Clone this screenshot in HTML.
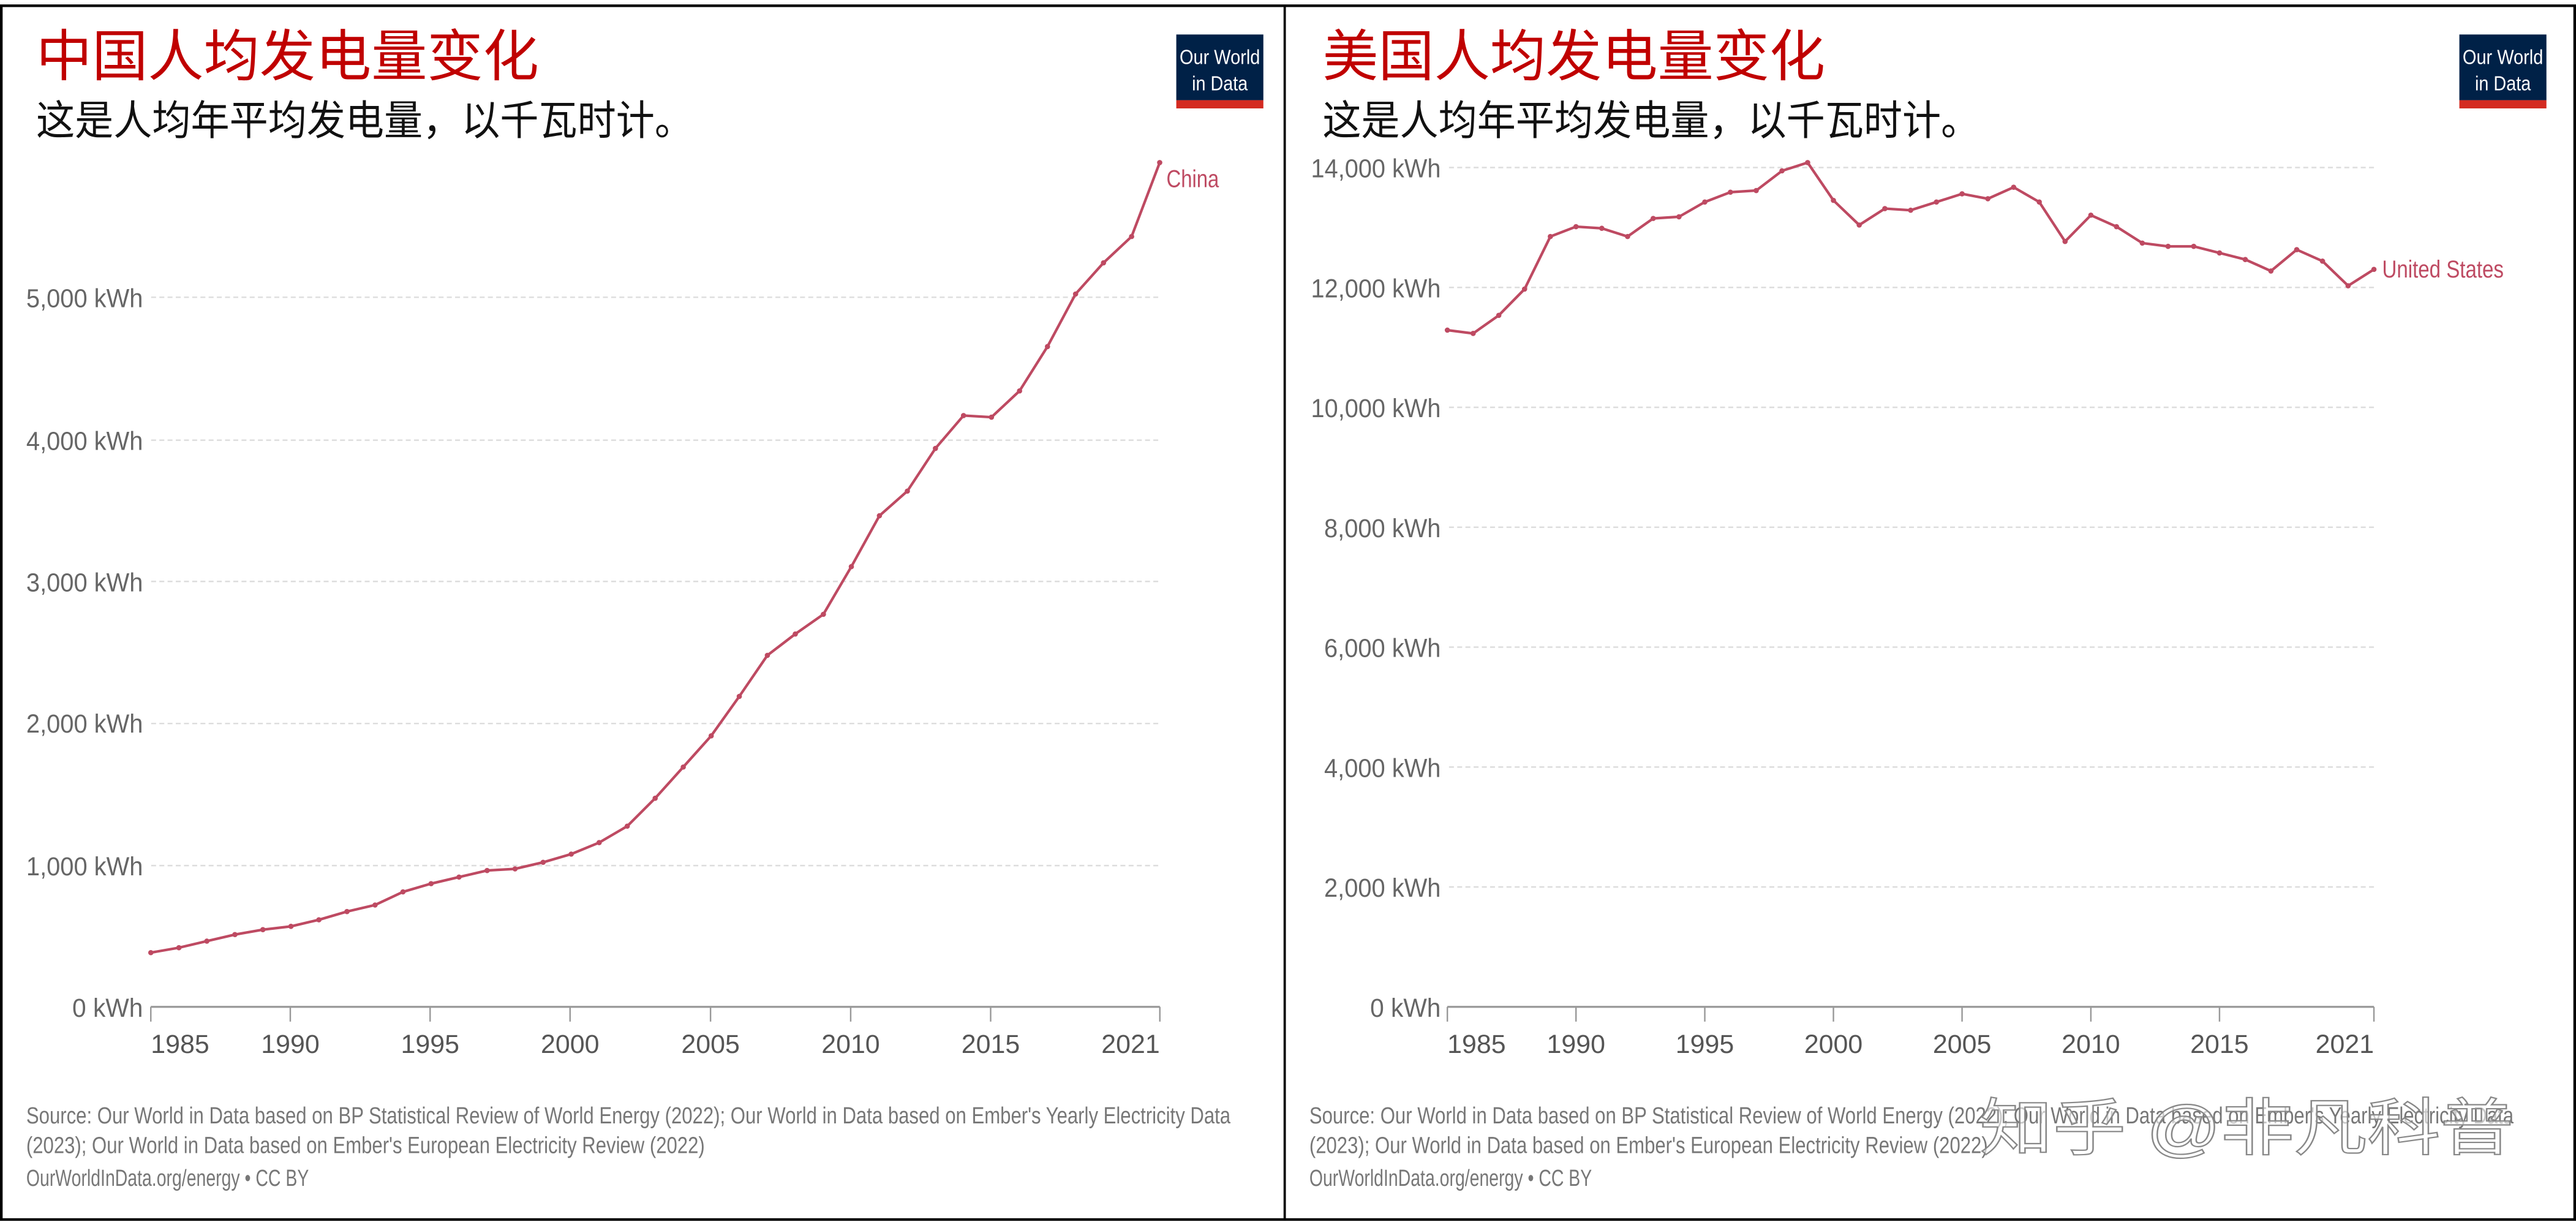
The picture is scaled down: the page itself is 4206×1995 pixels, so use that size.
<!DOCTYPE html>
<html><head><meta charset="utf-8"><style>
html,body{margin:0;padding:0;background:#fff}
svg{display:block}
text{font-family:"Liberation Sans","Noto Sans CJK SC",sans-serif}
</style></head><body>
<svg width="4206" height="1995" viewBox="0 0 1568 744" preserveAspectRatio="none" xmlns="http://www.w3.org/2000/svg">
<rect x="0" y="0" width="1568" height="744" fill="#fff"/>
<rect x="0.8" y="3.5" width="1566.4" height="739" fill="none" stroke="#000" stroke-width="1.6"/>
<line x1="782" y1="3.5" x2="782" y2="743" stroke="#000" stroke-width="1.4"/>

<!-- LEFT PANEL -->
<text x="22" y="46" font-size="34" fill="#c00000" textLength="306" lengthAdjust="spacingAndGlyphs">中国人均发电量变化</text>
<text x="22" y="82" font-size="25" fill="#111" textLength="400" lengthAdjust="spacingAndGlyphs">这是人均年平均发电量，以千瓦时计。</text>
<rect x="716" y="21" width="53" height="40" fill="#002147"/>
<rect x="716" y="61" width="53" height="5" fill="#d42b21"/>
<text x="742.5" y="39" font-size="12.5" fill="#fff" text-anchor="middle" textLength="49" lengthAdjust="spacingAndGlyphs">Our World</text>
<text x="742.5" y="55" font-size="12.5" fill="#fff" text-anchor="middle" textLength="34" lengthAdjust="spacingAndGlyphs">in Data</text>

<g stroke="#ddd" stroke-width="0.9" stroke-dasharray="3,2">
<line x1="92" y1="527" x2="706" y2="527"/><line x1="92" y1="440.5" x2="706" y2="440.5"/>
<line x1="92" y1="354" x2="706" y2="354"/><line x1="92" y1="268" x2="706" y2="268"/>
<line x1="92" y1="181" x2="706" y2="181"/>
</g>
<g font-size="16" fill="#666" text-anchor="end">
<text x="87" y="619" textLength="43" lengthAdjust="spacingAndGlyphs">0 kWh</text><text x="87" y="533" textLength="71" lengthAdjust="spacingAndGlyphs">1,000 kWh</text><text x="87" y="446" textLength="71" lengthAdjust="spacingAndGlyphs">2,000 kWh</text>
<text x="87" y="360" textLength="71" lengthAdjust="spacingAndGlyphs">3,000 kWh</text><text x="87" y="274" textLength="71" lengthAdjust="spacingAndGlyphs">4,000 kWh</text><text x="87" y="187" textLength="71" lengthAdjust="spacingAndGlyphs">5,000 kWh</text>
</g>
<line x1="91.8" y1="613" x2="706" y2="613" stroke="#999" stroke-width="1.2"/>
<g stroke="#999" stroke-width="0.9">
<line x1="91.8" y1="613" x2="91.8" y2="622"/><line x1="176.7" y1="613" x2="176.7" y2="622"/>
<line x1="261.8" y1="613" x2="261.8" y2="622"/><line x1="347" y1="613" x2="347" y2="622"/>
<line x1="432.5" y1="613" x2="432.5" y2="622"/><line x1="517.8" y1="613" x2="517.8" y2="622"/>
<line x1="603" y1="613" x2="603" y2="622"/><line x1="706" y1="613" x2="706" y2="622"/>
</g>
<g font-size="16" fill="#555" text-anchor="middle">
<text x="91.8" y="641" text-anchor="start">1985</text><text x="176.7" y="641">1990</text>
<text x="261.8" y="641">1995</text><text x="347" y="641">2000</text><text x="432.5" y="641">2005</text>
<text x="517.8" y="641">2010</text><text x="603" y="641">2015</text><text x="706" y="641" text-anchor="end">2021</text>
</g>
<polyline fill="none" stroke="#be4a62" stroke-width="1.6" points="91.8,580 108.9,577 125.9,573 143,569 160,566 177.1,564 194.1,560 211.2,555 228.3,551 245.3,543 262.4,538 279.4,534 296.5,530 313.5,529 330.6,525 347.7,520 364.7,513 381.8,503 398.8,486 415.9,467 432.9,448 450,424 467.1,399 484.1,386 501.2,374 518.2,345 535.3,314 552.3,299 569.4,273 586.5,253 603.5,254 620.6,238 637.6,211 654.7,179 671.7,160 688.8,144 705.9,99"/>
<g fill="#be4a62">
<circle cx="91.8" cy="580" r="1.6"/><circle cx="108.9" cy="577" r="1.6"/><circle cx="125.9" cy="573" r="1.6"/><circle cx="143" cy="569" r="1.6"/><circle cx="160" cy="566" r="1.6"/><circle cx="177.1" cy="564" r="1.6"/><circle cx="194.1" cy="560" r="1.6"/><circle cx="211.2" cy="555" r="1.6"/><circle cx="228.3" cy="551" r="1.6"/><circle cx="245.3" cy="543" r="1.6"/><circle cx="262.4" cy="538" r="1.6"/><circle cx="279.4" cy="534" r="1.6"/><circle cx="296.5" cy="530" r="1.6"/><circle cx="313.5" cy="529" r="1.6"/><circle cx="330.6" cy="525" r="1.6"/><circle cx="347.7" cy="520" r="1.6"/><circle cx="364.7" cy="513" r="1.6"/><circle cx="381.8" cy="503" r="1.6"/><circle cx="398.8" cy="486" r="1.6"/><circle cx="415.9" cy="467" r="1.6"/><circle cx="432.9" cy="448" r="1.6"/><circle cx="450" cy="424" r="1.6"/><circle cx="467.1" cy="399" r="1.6"/><circle cx="484.1" cy="386" r="1.6"/><circle cx="501.2" cy="374" r="1.6"/><circle cx="518.2" cy="345" r="1.6"/><circle cx="535.3" cy="314" r="1.6"/><circle cx="552.3" cy="299" r="1.6"/><circle cx="569.4" cy="273" r="1.6"/><circle cx="586.5" cy="253" r="1.6"/><circle cx="603.5" cy="254" r="1.6"/><circle cx="620.6" cy="238" r="1.6"/><circle cx="637.6" cy="211" r="1.6"/><circle cx="654.7" cy="179" r="1.6"/><circle cx="671.7" cy="160" r="1.6"/><circle cx="688.8" cy="144" r="1.6"/><circle cx="705.9" cy="99" r="1.6"/>
</g>
<text x="710" y="114" font-size="15" fill="#be4a62" textLength="32" lengthAdjust="spacingAndGlyphs">China</text>
<g font-size="14" fill="#777">
<text x="16" y="684" textLength="733" lengthAdjust="spacingAndGlyphs">Source: Our World in Data based on BP Statistical Review of World Energy (2022); Our World in Data based on Ember's Yearly Electricity Data</text>
<text x="16" y="702" textLength="413" lengthAdjust="spacingAndGlyphs">(2023); Our World in Data based on Ember's European Electricity Review (2022)</text>
<text x="16" y="722" textLength="172" lengthAdjust="spacingAndGlyphs">OurWorldInData.org/energy • CC BY</text>
</g>

<!-- RIGHT PANEL -->
<text x="805" y="46" font-size="34" fill="#c00000" textLength="306" lengthAdjust="spacingAndGlyphs">美国人均发电量变化</text>
<text x="805" y="82" font-size="25" fill="#111" textLength="400" lengthAdjust="spacingAndGlyphs">这是人均年平均发电量，以千瓦时计。</text>
<rect x="1497" y="21" width="53" height="40" fill="#002147"/>
<rect x="1497" y="61" width="53" height="5" fill="#d42b21"/>
<text x="1523.5" y="39" font-size="12.5" fill="#fff" text-anchor="middle" textLength="49" lengthAdjust="spacingAndGlyphs">Our World</text>
<text x="1523.5" y="55" font-size="12.5" fill="#fff" text-anchor="middle" textLength="34" lengthAdjust="spacingAndGlyphs">in Data</text>

<g stroke="#ddd" stroke-width="0.9" stroke-dasharray="3,2">
<line x1="882" y1="102" x2="1445" y2="102"/><line x1="882" y1="175" x2="1445" y2="175"/>
<line x1="882" y1="248" x2="1445" y2="248"/><line x1="882" y1="321" x2="1445" y2="321"/>
<line x1="882" y1="394" x2="1445" y2="394"/><line x1="882" y1="467" x2="1445" y2="467"/>
<line x1="882" y1="540" x2="1445" y2="540"/>
</g>
<g font-size="16" fill="#666" text-anchor="end">
<text x="877" y="619" textLength="43" lengthAdjust="spacingAndGlyphs">0 kWh</text><text x="877" y="546" textLength="71" lengthAdjust="spacingAndGlyphs">2,000 kWh</text><text x="877" y="473" textLength="71" lengthAdjust="spacingAndGlyphs">4,000 kWh</text>
<text x="877" y="400" textLength="71" lengthAdjust="spacingAndGlyphs">6,000 kWh</text><text x="877" y="327" textLength="71" lengthAdjust="spacingAndGlyphs">8,000 kWh</text><text x="877" y="254" textLength="79" lengthAdjust="spacingAndGlyphs">10,000 kWh</text>
<text x="877" y="181" textLength="79" lengthAdjust="spacingAndGlyphs">12,000 kWh</text><text x="877" y="108" textLength="79" lengthAdjust="spacingAndGlyphs">14,000 kWh</text>
</g>
<line x1="881" y1="613" x2="1445" y2="613" stroke="#999" stroke-width="1.2"/>
<g stroke="#999" stroke-width="0.9">
<line x1="881" y1="613" x2="881" y2="622"/><line x1="959.3" y1="613" x2="959.3" y2="622"/>
<line x1="1037.7" y1="613" x2="1037.7" y2="622"/><line x1="1116" y1="613" x2="1116" y2="622"/>
<line x1="1194.3" y1="613" x2="1194.3" y2="622"/><line x1="1272.7" y1="613" x2="1272.7" y2="622"/>
<line x1="1351" y1="613" x2="1351" y2="622"/><line x1="1445" y1="613" x2="1445" y2="622"/>
</g>
<g font-size="16" fill="#555" text-anchor="middle">
<text x="881" y="641" text-anchor="start">1985</text><text x="959.3" y="641">1990</text>
<text x="1037.7" y="641">1995</text><text x="1116" y="641">2000</text><text x="1194.3" y="641">2005</text>
<text x="1272.7" y="641">2010</text><text x="1351" y="641">2015</text><text x="1445" y="641" text-anchor="end">2021</text>
</g>
<polyline fill="none" stroke="#be4a62" stroke-width="1.6" points="881,201 896.7,203 912.3,192 928,176 943.7,144 959.3,138 975,139 990.7,144 1006.3,133 1022,132 1037.7,123 1053.3,117 1069,116 1084.7,104 1100.3,99 1116,122 1131.7,137 1147.3,127 1163,128 1178.7,123 1194.3,118 1210,121 1225.7,114 1241.3,123 1257,147 1272.7,131 1288.3,138 1304,148 1319.7,150 1335.3,150 1351,154 1366.7,158 1382.3,165 1398,152 1413.7,159 1429.3,174 1445,164"/>
<g fill="#be4a62">
<circle cx="881" cy="201" r="1.6"/><circle cx="896.7" cy="203" r="1.6"/><circle cx="912.3" cy="192" r="1.6"/><circle cx="928" cy="176" r="1.6"/><circle cx="943.7" cy="144" r="1.6"/><circle cx="959.3" cy="138" r="1.6"/><circle cx="975" cy="139" r="1.6"/><circle cx="990.7" cy="144" r="1.6"/><circle cx="1006.3" cy="133" r="1.6"/><circle cx="1022" cy="132" r="1.6"/><circle cx="1037.7" cy="123" r="1.6"/><circle cx="1053.3" cy="117" r="1.6"/><circle cx="1069" cy="116" r="1.6"/><circle cx="1084.7" cy="104" r="1.6"/><circle cx="1100.3" cy="99" r="1.6"/><circle cx="1116" cy="122" r="1.6"/><circle cx="1131.7" cy="137" r="1.6"/><circle cx="1147.3" cy="127" r="1.6"/><circle cx="1163" cy="128" r="1.6"/><circle cx="1178.7" cy="123" r="1.6"/><circle cx="1194.3" cy="118" r="1.6"/><circle cx="1210" cy="121" r="1.6"/><circle cx="1225.7" cy="114" r="1.6"/><circle cx="1241.3" cy="123" r="1.6"/><circle cx="1257" cy="147" r="1.6"/><circle cx="1272.7" cy="131" r="1.6"/><circle cx="1288.3" cy="138" r="1.6"/><circle cx="1304" cy="148" r="1.6"/><circle cx="1319.7" cy="150" r="1.6"/><circle cx="1335.3" cy="150" r="1.6"/><circle cx="1351" cy="154" r="1.6"/><circle cx="1366.7" cy="158" r="1.6"/><circle cx="1382.3" cy="165" r="1.6"/><circle cx="1398" cy="152" r="1.6"/><circle cx="1413.7" cy="159" r="1.6"/><circle cx="1429.3" cy="174" r="1.6"/><circle cx="1445" cy="164" r="1.6"/>
</g>
<text x="1450" y="169" font-size="15" fill="#be4a62" textLength="74" lengthAdjust="spacingAndGlyphs">United States</text>
<g font-size="14" fill="#777">
<text x="797" y="684" textLength="733" lengthAdjust="spacingAndGlyphs">Source: Our World in Data based on BP Statistical Review of World Energy (2022); Our World in Data based on Ember's Yearly Electricity Data</text>
<text x="797" y="702" textLength="413" lengthAdjust="spacingAndGlyphs">(2023); Our World in Data based on Ember's European Electricity Review (2022)</text>
<text x="797" y="722" textLength="172" lengthAdjust="spacingAndGlyphs">OurWorldInData.org/energy • CC BY</text>
</g>
<text x="1205" y="700" font-size="38" fill="#ffffff" fill-opacity="0.6" stroke="#888" stroke-width="0.8" textLength="325" lengthAdjust="spacingAndGlyphs" font-family="'Noto Sans CJK SC',sans-serif">知乎 @非凡科普</text>
</svg>
</body></html>
